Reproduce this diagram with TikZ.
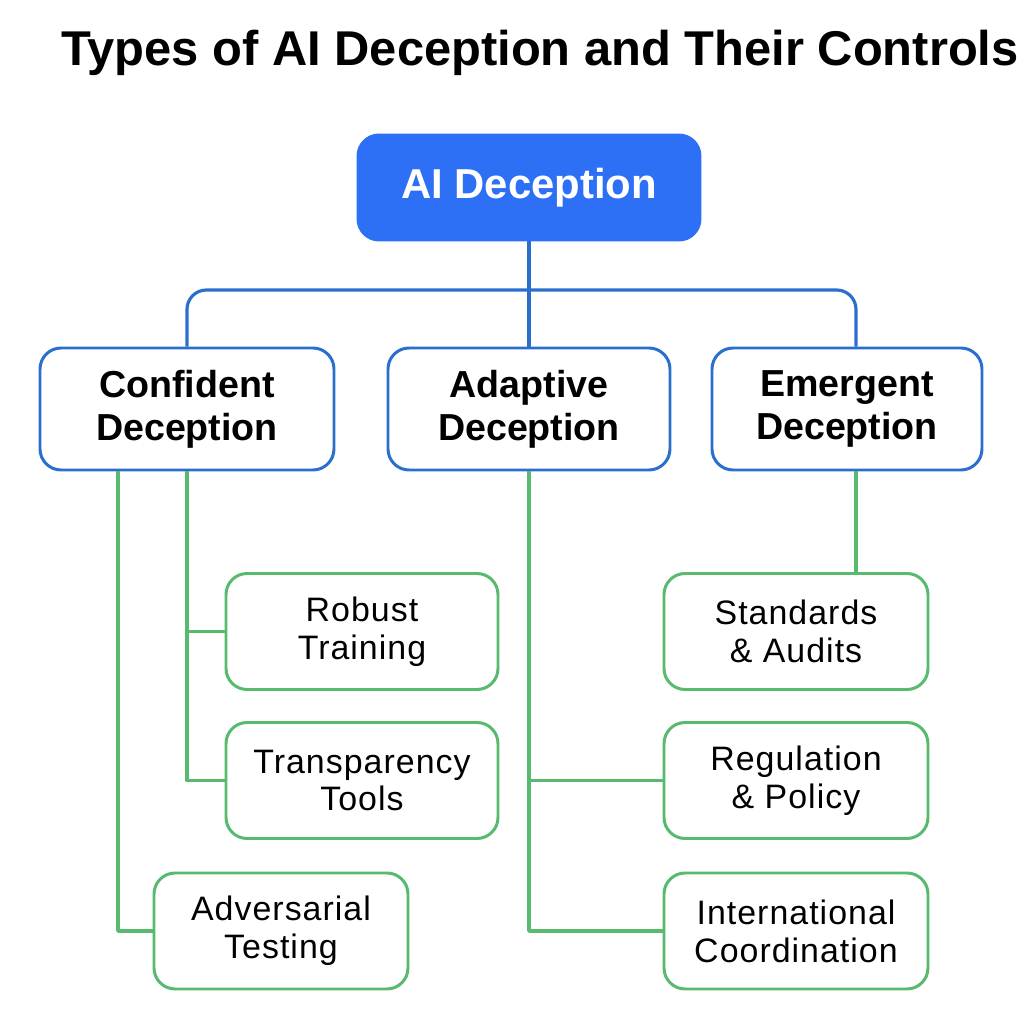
\documentclass[tikz,border=0pt]{standalone}
\usepackage{fontspec}
\setsansfont{Liberation Sans}
\usetikzlibrary{arrows.meta}
\definecolor{dcblue}{RGB}{45,112,246}
\definecolor{dcedge}{RGB}{42,110,206}
\definecolor{dcgreen}{RGB}{88,186,110}
\tikzset{
  dcbox/.style={
    draw, line width=1.7pt, rounded corners=12pt,
    align=center, inner sep=2pt, fill=white
  },
  root/.style={dcbox, draw=dcblue, fill=dcblue, text=white,
    font=\fontsize{23.8}{28}\selectfont\bfseries\sffamily,
    minimum width=6.84cm, minimum height=2.1cm},
  kind/.style={dcbox, draw=dcedge,
    font=\fontsize{21.4}{24.5}\selectfont\bfseries\sffamily,
    minimum height=2.44cm},
  ctrl/.style={dcbox, draw=dcgreen,
    font=\fontsize{19.3}{21.6}\selectfont\sffamily\addfontfeatures{LetterSpace=3},
    minimum height=2.32cm},
  bline/.style={draw=dcedge, line width=1.8pt, rounded corners=11pt},
  gline/.style={draw=dcgreen, line width=2pt},
  every picture/.append style={line join=round}
}

\begin{document}
\begin{tikzpicture}[x=1cm,y=1cm]
  \useasboundingbox (0,0) rectangle (20.48,20.48);
  \node[font=\fontsize{27.8}{32}\selectfont\bfseries\sffamily, anchor=base]
    (title) at (10.8,19.16) {Types of AI Deception and Their Controls};

  % root and the three kinds
  \node[root] (dec) at (10.58,16.73) {AI Deception};
  \node[kind, minimum width=5.88cm] (conf) at (3.74,12.3) {Confident\\Deception};
  \node[kind, minimum width=5.64cm] (adap) at (10.58,12.3) {Adaptive\\Deception};
  \node[kind, minimum width=5.4cm] (emer) at (16.94,12.3) {Emergent\\Deception};

  % controls
  \node[ctrl, minimum width=5.44cm] (rob) at (7.24,7.85) {Robust\\Training};
  \node[ctrl, minimum width=5.44cm] (trans) at (7.24,4.87) {Transparency\\Tools};
  \node[ctrl, minimum width=5.08cm] (adv) at (5.62,1.86) {Adversarial\\Testing};
  \node[ctrl, minimum width=5.28cm] (stand) at (15.92,7.85) {Standards\\\& Audits};
  \node[ctrl, minimum width=5.28cm] (reg) at (15.92,4.87) {Regulation\\\& Policy};
  \node[ctrl, minimum width=5.28cm] (intl) at (15.92,1.86) {International\\Coordination};

  % tree lines
  \coordinate (hub) at (10.58,14.68);
  \coordinate (eTop) at ([xshift=0.18cm]emer.north);
  \coordinate (eBot) at ([xshift=0.18cm]emer.south);
  \coordinate (cBot) at ([xshift=-1.38cm]conf.south);
  \draw[bline] (conf.north) |- (hub) -| (eTop);
  \draw[bline] (dec.south) -- (adap.north);

  \draw[gline] (conf.south) |- (trans.west);
  \draw[gline] (conf.south |- rob.west) -- (rob.west);
  \draw[gline] (cBot) |- (adv.west);
  \draw[gline] (adap.south) |- (intl.west);
  \draw[gline] (adap.south |- reg.west) -- (reg.west);
  \draw[gline] (eBot) -- (eBot |- stand.north);
\end{tikzpicture}
\end{document}
